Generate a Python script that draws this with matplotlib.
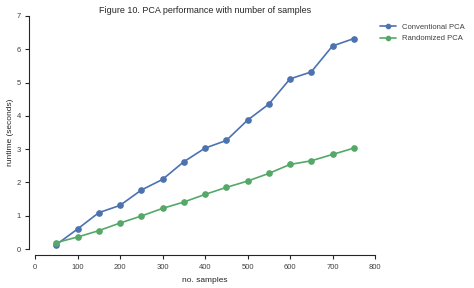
import matplotlib
matplotlib.use("Agg")
import matplotlib.pyplot as plt
import seaborn as sns

samples = [50, 100, 150, 200, 250, 300, 350, 400, 450, 500, 550, 600, 650, 700, 750]
conventional = [0.13, 0.60, 1.09, 1.31, 1.77, 2.09, 2.62, 3.03, 3.26, 3.87, 4.35, 5.11, 5.32, 6.10, 6.32]
randomized = [0.19, 0.36, 0.55, 0.78, 0.99, 1.22, 1.41, 1.64, 1.85, 2.04, 2.27, 2.54, 2.65, 2.84, 3.03]

sns.set_style("ticks")
plt.rcParams['font.family'] = ['Liberation Sans', 'DejaVu Sans']
txt = '.25'

fig = plt.figure(figsize=(4.74, 2.88), dpi=100)
ax = fig.add_axes([35 / 474, 1 - 249 / 288, 340 / 474, 233 / 288])

ax.plot(samples, conventional, marker='o', color='#4C72B0', lw=1.2, ms=3.8,
        label='Conventional PCA')
ax.plot(samples, randomized, marker='o', color='#55A868', lw=1.2, ms=3.8,
        label='Randomized PCA')

ax.set_xlim(0, 800)
ax.set_ylim(0, 7)
ax.set_xticks(range(0, 801, 100))
ax.set_yticks(range(0, 8))
ax.tick_params(labelsize=5.5, colors='.15', labelcolor=txt, length=3, width=0.8)
ax.tick_params(axis='x', pad=4)
ax.tick_params(axis='y', pad=3)
ax.set_title('Figure 10. PCA performance with number of samples', fontsize=6.5,
             color='.15', pad=2)
ax.set_xlabel('no. samples', fontsize=6, color='.15', labelpad=4)
ax.set_ylabel('runtime (seconds)', fontsize=6, color='.15', labelpad=2)
sns.despine(ax=ax, offset=4, trim=True)
for s in ['left', 'bottom']:
    ax.spines[s].set_linewidth(0.8)
    ax.spines[s].set_color('.15')

leg = ax.legend(loc='upper left', bbox_to_anchor=(1.0, 0.99), frameon=False,
                fontsize=5.5, handlelength=2, borderaxespad=0.3, markerscale=0.8)
for t in leg.get_texts():
    t.set_color(txt)

fig.savefig('out.png', dpi=100)
